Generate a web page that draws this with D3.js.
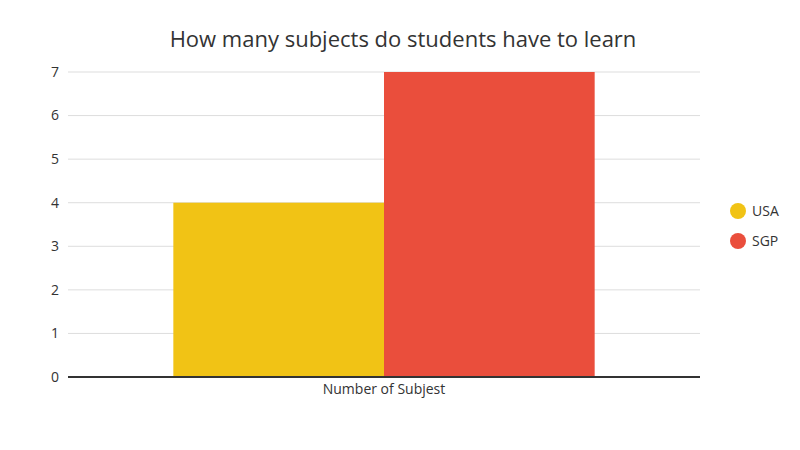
<!DOCTYPE html>
<html><head><meta charset="utf-8">
<script src="https://cdn.jsdelivr.net/npm/d3@7"></script>
<style>body{margin:0;background:#fff;font-family:"Open Sans","Liberation Sans",sans-serif;}</style>
</head><body><div id="chart"></div>
<script>
let categories = ["Number of Subjest"];
let series = ["USA", "SGP"];
let values = [[4, 7]];
let colors = ["#F1C315", "#EA4E3C"];
let yTicks = [0, 1, 2, 3, 4, 5, 6, 7];

let width = 800, height = 450;
let margin = { top: 72, right: 100, bottom: 73, left: 68 };

const svg = d3.select("#chart").append("svg").attr("width", width).attr("height", height);

let x = d3.scaleBand().domain(categories).range([margin.left, width - margin.right]).padding(0.2);
let xs = d3.scaleBand().domain(series).range([0, x.bandwidth()]);
let y = d3.scaleLinear().domain([0, 7]).range([height - margin.bottom, margin.top]);

svg.append("text").attr("x", 403).attr("y", 47).attr("text-anchor", "middle")
  .attr("font-size", 22).attr("fill", "#333").text("How many subjects do students have to learn");

// grid
svg.append("g").selectAll("line").data(yTicks).join("line")
  .attr("x1", margin.left).attr("x2", width - margin.right)
  .attr("y1", d => y(d)).attr("y2", d => y(d))
  .attr("stroke", "#ddd");

svg.append("g").selectAll("text").data(yTicks).join("text")
  .attr("x", 59).attr("y", d => y(d)).attr("dy", "0.35em").attr("text-anchor", "end")
  .attr("font-size", 14).attr("fill", "#333").text(d => d);

categories.forEach((c, i) => {
  svg.append("g").selectAll("rect").data(series).join("rect")
    .attr("x", s => x(c) + xs(s)).attr("width", xs.bandwidth())
    .attr("y", (s, j) => y(values[i][j])).attr("height", (s, j) => y(0) - y(values[i][j]))
    .attr("fill", (s, j) => colors[j]);
  svg.append("text").attr("x", x(c) + x.bandwidth() / 2).attr("y", y(0) + 17)
    .attr("text-anchor", "middle").attr("font-size", 14).attr("fill", "#333").text(c);
});

svg.append("line").attr("x1", margin.left).attr("x2", width - margin.right)
  .attr("y1", y(0)).attr("y2", y(0)).attr("stroke", "#333").attr("stroke-width", 2);

let lg = svg.append("g").selectAll("g").data(series).join("g")
  .attr("transform", (d, i) => `translate(738,${211 + i * 30})`);
lg.append("circle").attr("r", 8).attr("fill", (d, i) => colors[i]);
lg.append("text").attr("x", 14).attr("dy", "0.35em").attr("font-size", 14).attr("fill", "#333").text(d => d);
</script></body></html>
